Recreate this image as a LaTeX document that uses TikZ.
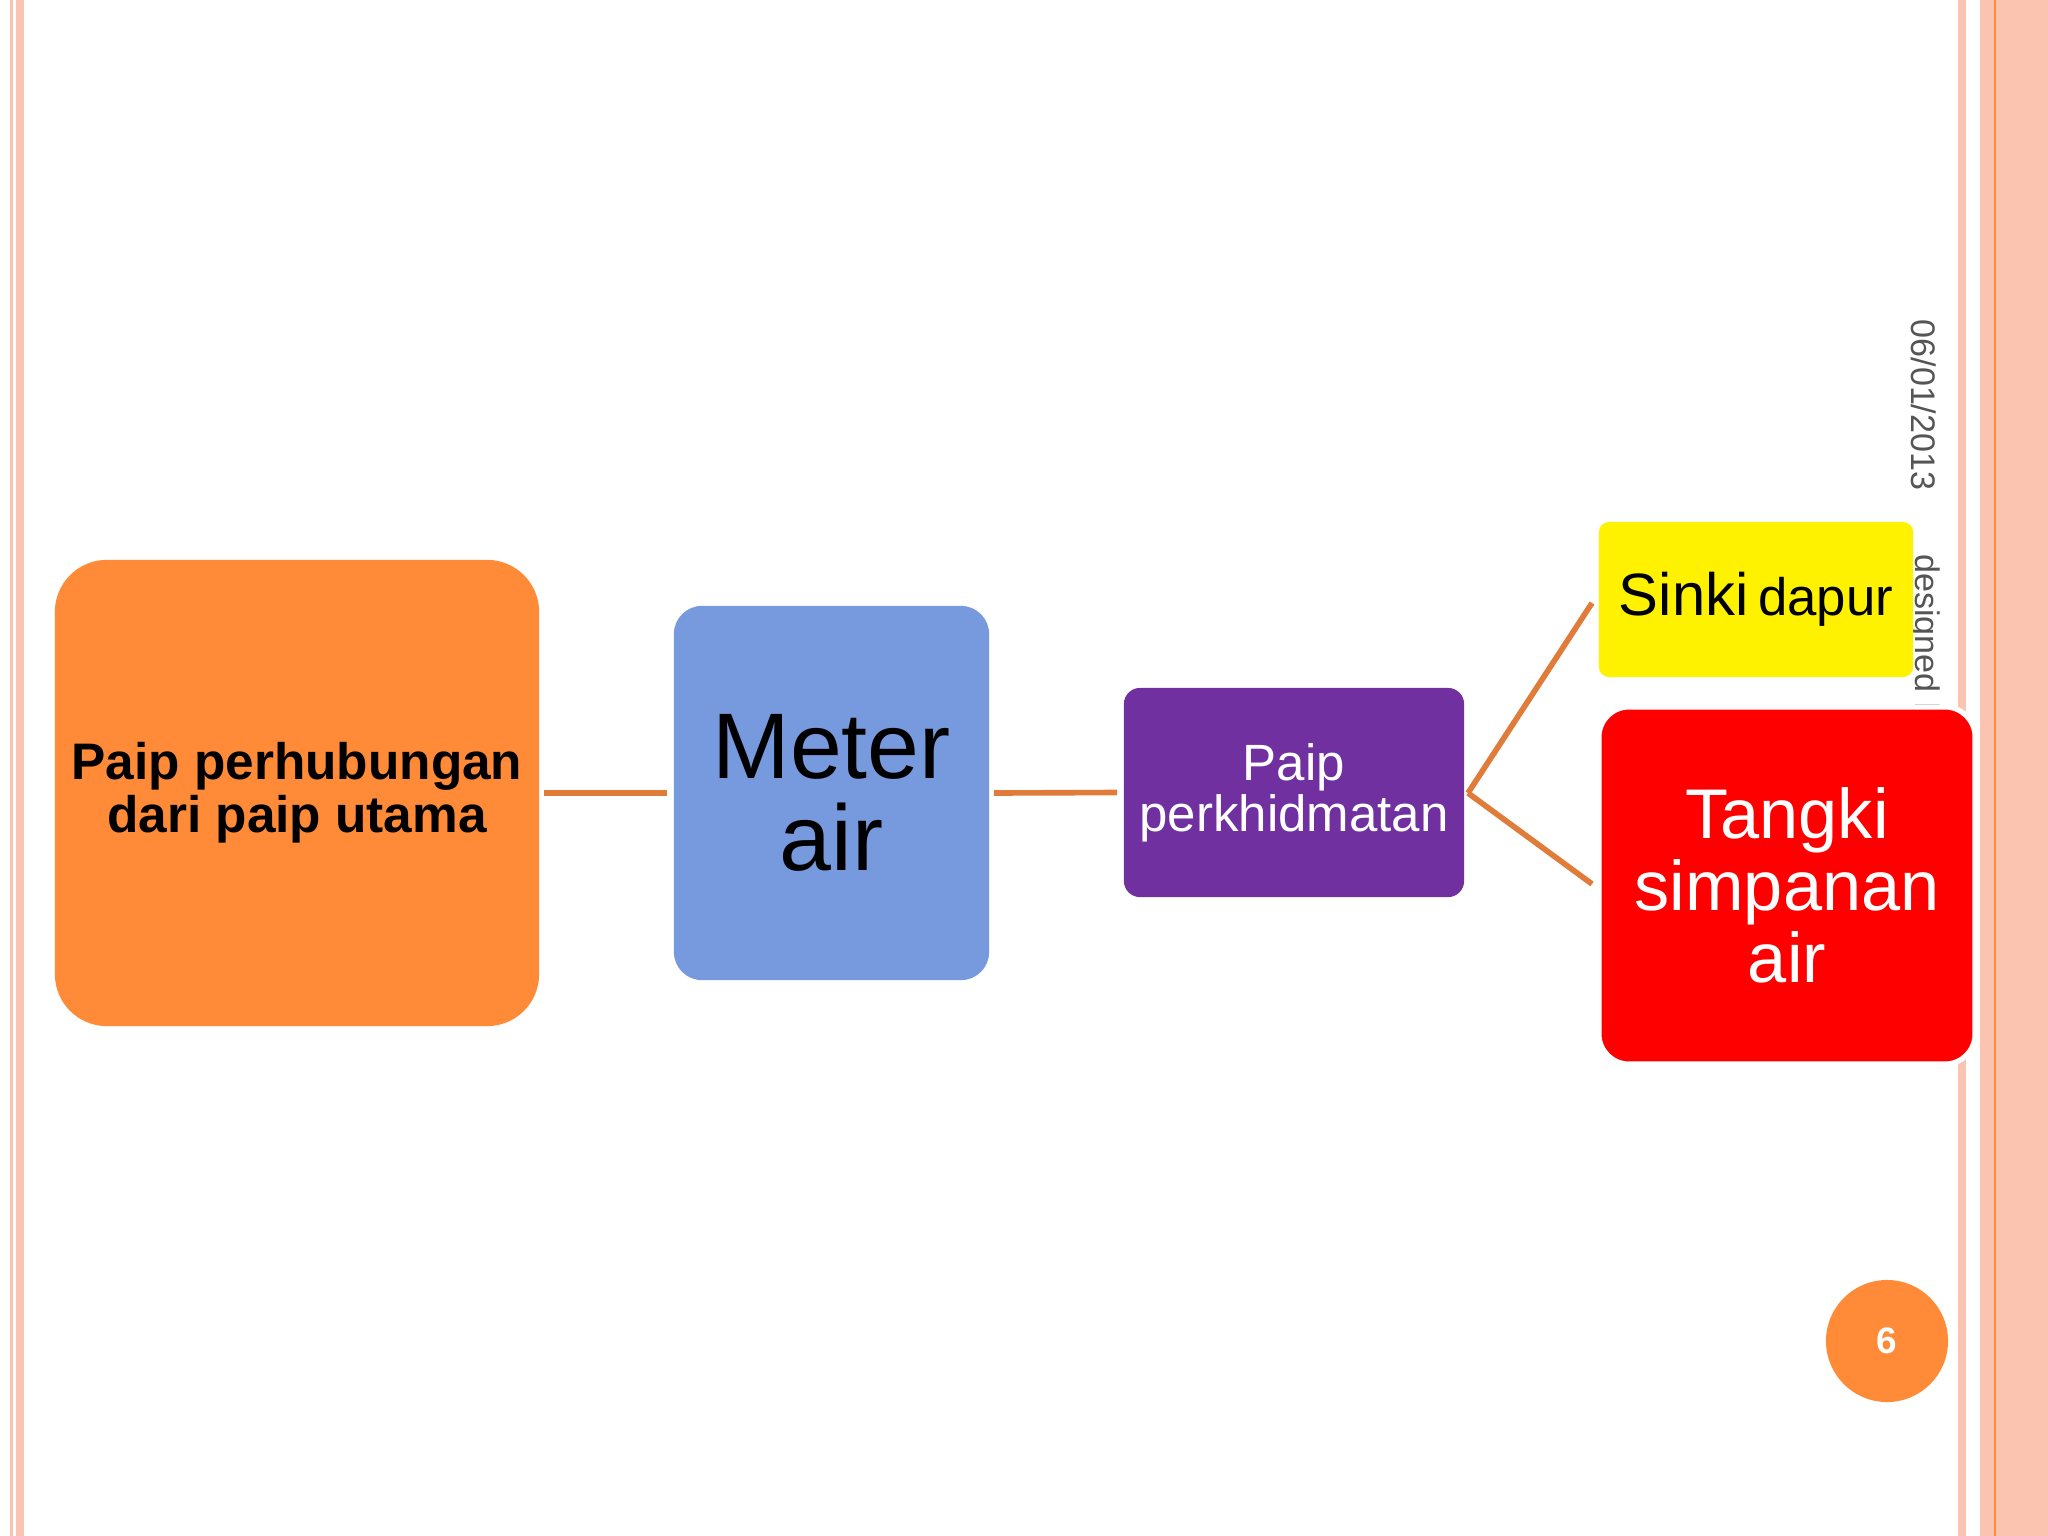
\documentclass[tikz,border=0pt]{standalone}
\usepackage{fontspec}
\setmainfont{Liberation Sans}
\begin{document}
\begin{tikzpicture}[x=0.01cm,y=-0.01cm,
  box/.style={rounded corners=#1,inner sep=0pt,align=center},
  conn/.style={draw=linec,line width=1.6pt}]
\definecolor{pinkst}{HTML}{FBC4B0}
\definecolor{orangeb}{HTML}{FF8A38}
\definecolor{meterb}{HTML}{7799DD}
\definecolor{purpb}{HTML}{7030A0}
\definecolor{linec}{HTML}{E07B39}
\definecolor{grayt}{HTML}{555555}
\useasboundingbox (0,0) rectangle (2048,1536);
\fill[white] (0,0) rectangle (2048,1536);
% stripes
\fill[pinkst] (10,0) rectangle (13,1536);
\fill[pinkst] (16,0) rectangle (24,1536);
\fill[pinkst] (1958,0) rectangle (1966,1536);
\fill[pinkst] (1980,0) rectangle (2048,1536);
\draw[orangeb,line width=0.6pt] (1995,0) -- (1995,1536);
% date
\node[rotate=-90,text=grayt,font=\fontsize{9.7}{10}\selectfont] (date) at (1924,405) {06/01/2013};
\node[rotate=-90,text=grayt,font=\fontsize{9.7}{10}\selectfont,anchor=west] (des) at (1924,542) {designed by};
% nodes
\node[box=0.52cm,fill=orangeb,minimum width=4.84cm,minimum height=4.66cm,font=\fontsize{14.6}{15}\selectfont\bfseries] (a) at (297,793) {Paip perhubungan\\dari paip utama};
\node[box=0.28cm,fill=meterb,minimum width=3.15cm,minimum height=3.74cm,font=\fontsize{26.5}{26}\selectfont] (b) at (831.5,793) {Meter\\air};
\node[box=0.16cm,fill=purpb,text=white,minimum width=3.4cm,minimum height=2.09cm,font=\fontsize{14.5}{14.5}\selectfont] (c) at (1294,792.5) {Paip\\perkhidmatan};
\node[box=0.1cm,fill=yellow,minimum width=3.14cm,minimum height=1.55cm] (d) at (1756,599.5) {{\fontsize{17}{18}\selectfont Sinki} {\fontsize{15}{18}\selectfont dapur}};
\node[box=0.3cm,fill=red,draw=white,line width=1.5pt,text=white,minimum width=3.76cm,minimum height=3.57cm,font=\fontsize{20}{20.4}\selectfont] (e) at (1787,885.5) {Tangki\\simpanan\\air};
\node[circle,fill=orangeb,text=white,minimum size=1.22cm,inner sep=0pt,font=\fontsize{10.5}{11}\selectfont\bfseries] (p) at (1887,1341) {6};
% connectors
\coordinate (c1) at (1468,793);
\draw[conn] ([xshift=0.04cm]a.east) -- ([xshift=-0.06cm]b.west);
\draw[conn] ([xshift=0.04cm]b.east) -- ([xshift=-0.06cm]c.west);
\draw[conn] (c1) -- (1592,603);
\draw[conn] (c1) -- (1592,884);
\end{tikzpicture}
\end{document}
